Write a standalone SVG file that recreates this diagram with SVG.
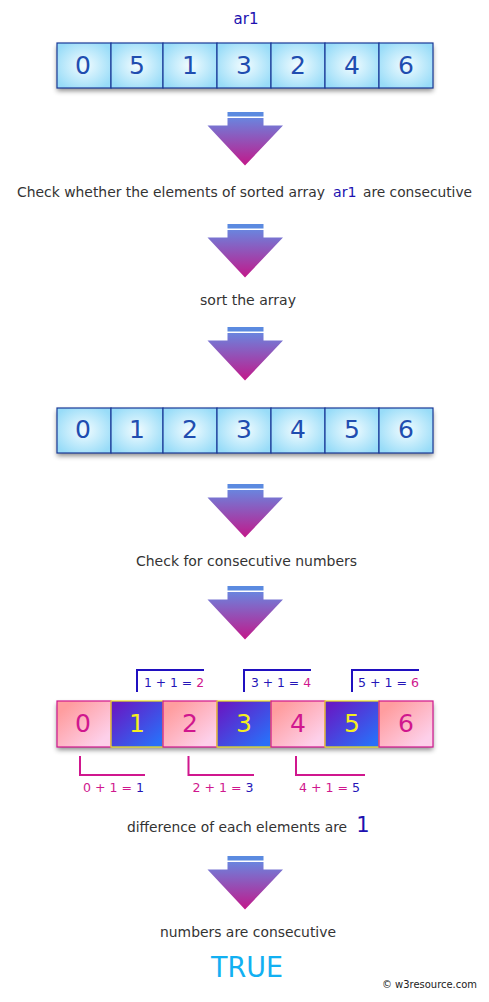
<svg xmlns="http://www.w3.org/2000/svg" xmlns:xlink="http://www.w3.org/1999/xlink" width="489" height="1002" viewBox="0 0 489 1002">
<defs>
<radialGradient id="blueCell" cx="0.5" cy="0.5" r="0.6">
<stop offset="0" stop-color="#f2fcff"/>
<stop offset="1" stop-color="#98dcf8"/>
</radialGradient>
<linearGradient id="pinkCell" x1="0" y1="0" x2="1" y2="1">
<stop offset="0.15" stop-color="#ff9d9f"/>
<stop offset="0.85" stop-color="#fdd0ea"/>
</linearGradient>
<linearGradient id="purpleCell" x1="0" y1="0" x2="1" y2="1">
<stop offset="0.1" stop-color="#651cc6"/>
<stop offset="0.9" stop-color="#2a6ef8"/>
</linearGradient>
<linearGradient id="arrowGrad" x1="0" y1="0" x2="0" y2="1">
<stop offset="0" stop-color="#6a84de"/>
<stop offset="1" stop-color="#c2188a"/>
</linearGradient>
<filter id="shadow" x="-10%" y="-30%" width="120%" height="170%">
<feDropShadow dx="0" dy="3" stdDeviation="2.5" flood-color="#000" flood-opacity="0.45"/>
</filter>
<g id="arrow">
<rect x="227.5" y="0" width="36" height="4.5" fill="#5b8ae0"/>
<path d="M227.5,6 H263.5 V13.5 H283 L245,53.5 L207.5,13.5 H227.5 Z" fill="url(#arrowGrad)"/>
</g>
</defs>
<style>
.t{font-family:"DejaVu Sans","Liberation Sans",sans-serif;fill:#333333;font-size:14.5px}
.bl{stroke:#1a3a98;stroke-width:1.2;fill:url(#blueCell)}
.bd{font-family:"DejaVu Sans","Liberation Sans",sans-serif;font-size:25px;fill:#1f4db0;text-anchor:middle}
.pk{stroke:#d0178e;stroke-width:1.2;fill:url(#pinkCell)}
.pp{stroke:#f0e41e;stroke-width:1.2;fill:url(#purpleCell)}
.pd{font-family:"DejaVu Sans","Liberation Sans",sans-serif;font-size:25px;fill:#d0178e;text-anchor:middle}
.yd{font-family:"DejaVu Sans","Liberation Sans",sans-serif;font-size:25px;fill:#f5ef1e;text-anchor:middle}
.s{font-family:"DejaVu Sans","Liberation Sans",sans-serif;font-size:12.5px}
.cb{fill:#2515b8}
.cm{fill:#d0178e}
.brb{stroke:#2010c0;stroke-width:2;fill:none}
.brm{stroke:#d0178e;stroke-width:2;fill:none}
</style>
<rect width="489" height="1002" fill="#ffffff"/>

<g id="label-ar1">
<text x="246" y="24" class="t" style="fill:#2011b0;font-size:15px" text-anchor="middle">ar1</text>
</g>

<g id="array-original">
<g filter="url(#shadow)">
<rect x="57" y="43" width="376" height="45" fill="#9fdcf6"/>
</g>
<rect x="57" y="43" width="54" height="45" class="bl"/>
<rect x="111" y="43" width="52" height="45" class="bl"/>
<rect x="163" y="43" width="54" height="45" class="bl"/>
<rect x="217" y="43" width="54" height="45" class="bl"/>
<rect x="271" y="43" width="54" height="45" class="bl"/>
<rect x="325" y="43" width="54" height="45" class="bl"/>
<rect x="379" y="43" width="54" height="45" class="bl"/>
<text x="83" y="74" class="bd">0</text>
<text x="137" y="74" class="bd">5</text>
<text x="190" y="74" class="bd">1</text>
<text x="244" y="74" class="bd">3</text>
<text x="298" y="74" class="bd">2</text>
<text x="352" y="74" class="bd">4</text>
<text x="406" y="74" class="bd">6</text>
</g>

<g id="text-check-sorted">
<text x="17" y="197" class="t" textLength="308" lengthAdjust="spacingAndGlyphs">Check whether the elements of sorted array</text>
<text x="333" y="197" class="t" style="fill:#2011b0" textLength="23.5" lengthAdjust="spacingAndGlyphs">ar1</text>
<text x="363" y="197" class="t" textLength="109" lengthAdjust="spacingAndGlyphs">are consecutive</text>
</g>

<g id="text-sort">
<text x="200" y="305" class="t" textLength="96" lengthAdjust="spacingAndGlyphs">sort the array</text>
</g>

<g id="array-sorted">
<g filter="url(#shadow)">
<rect x="57" y="408" width="376" height="45" fill="#9fdcf6"/>
</g>
<rect x="57" y="408" width="54" height="45" class="bl"/>
<rect x="111" y="408" width="52" height="45" class="bl"/>
<rect x="163" y="408" width="54" height="45" class="bl"/>
<rect x="217" y="408" width="54" height="45" class="bl"/>
<rect x="271" y="408" width="54" height="45" class="bl"/>
<rect x="325" y="408" width="54" height="45" class="bl"/>
<rect x="379" y="408" width="54" height="45" class="bl"/>
<text x="83" y="438" class="bd">0</text>
<text x="137" y="438" class="bd">1</text>
<text x="190" y="438" class="bd">2</text>
<text x="244" y="438" class="bd">3</text>
<text x="298" y="438" class="bd">4</text>
<text x="352" y="438" class="bd">5</text>
<text x="406" y="438" class="bd">6</text>
</g>

<g id="text-check-consecutive">
<text x="136" y="566" class="t" textLength="221" lengthAdjust="spacingAndGlyphs">Check for consecutive numbers</text>
</g>

<g id="array-check">
<g filter="url(#shadow)">
<rect x="57" y="701" width="376" height="46" fill="#f0a0c0"/>
</g>
<rect x="57" y="701" width="54" height="46" class="pk"/>
<rect x="111" y="701" width="52" height="46" class="pp"/>
<rect x="163" y="701" width="54" height="46" class="pk"/>
<rect x="217" y="701" width="54" height="46" class="pp"/>
<rect x="271" y="701" width="54" height="46" class="pk"/>
<rect x="325" y="701" width="54" height="46" class="pp"/>
<rect x="379" y="701" width="54" height="46" class="pk"/>
<text x="83" y="732" class="pd">0</text>
<text x="137" y="732" class="yd">1</text>
<text x="190" y="732" class="pd">2</text>
<text x="244" y="732" class="yd">3</text>
<text x="298" y="732" class="pd">4</text>
<text x="352" y="732" class="yd">5</text>
<text x="406" y="732" class="pd">6</text>
</g>

<g id="sum-above-1">
<path d="M137,692 V670 H204" class="brb"/>
<text x="144" y="687" class="s cb" textLength="60" lengthAdjust="spacingAndGlyphs">1 + 1 = <tspan class="cm">2</tspan></text>
</g>
<g id="sum-above-2">
<path d="M244,692 V670 H311" class="brb"/>
<text x="251" y="687" class="s cb" textLength="60" lengthAdjust="spacingAndGlyphs">3 + 1 = <tspan class="cm">4</tspan></text>
</g>
<g id="sum-above-3">
<path d="M352,692 V670 H419" class="brb"/>
<text x="358" y="687" class="s cb" textLength="61" lengthAdjust="spacingAndGlyphs">5 + 1 = <tspan class="cm">6</tspan></text>
</g>

<g id="sum-below-1">
<path d="M80,756 V775 H145" class="brm"/>
<text x="83" y="792" class="s cm" textLength="61" lengthAdjust="spacingAndGlyphs">0 + 1 = <tspan class="cb">1</tspan></text>
</g>
<g id="sum-below-2">
<path d="M188.5,756 V775 H254" class="brm"/>
<text x="192.5" y="792" class="s cm" textLength="61" lengthAdjust="spacingAndGlyphs">2 + 1 = <tspan class="cb">3</tspan></text>
</g>
<g id="sum-below-3">
<path d="M296,756 V775 H365" class="brm"/>
<text x="299" y="792" class="s cm" textLength="61" lengthAdjust="spacingAndGlyphs">4 + 1 = <tspan class="cb">5</tspan></text>
</g>

<g id="text-difference">
<text x="127" y="832" class="t" textLength="220" lengthAdjust="spacingAndGlyphs">difference of each elements are</text>
<text x="363" y="832" class="t" style="fill:#2011b0;font-size:21px" text-anchor="middle">1</text>
</g>

<g id="text-numbers-consecutive">
<text x="160" y="937" class="t" textLength="176" lengthAdjust="spacingAndGlyphs">numbers are consecutive</text>
</g>

<g id="text-true">
<text x="247" y="977" class="t" style="fill:#12b0f2;font-size:28px" text-anchor="middle" textLength="72" lengthAdjust="spacingAndGlyphs">TRUE</text>
</g>

<g id="copyright">
<text x="382" y="988" style="font-family:'DejaVu Sans','Liberation Sans',sans-serif;font-size:10px;fill:#222" textLength="95" lengthAdjust="spacingAndGlyphs">© w3resource.com</text>
</g>

<g id="connectors">
<use xlink:href="#arrow" transform="translate(0,112)"/>
<use xlink:href="#arrow" transform="translate(0,224)"/>
<use xlink:href="#arrow" transform="translate(0,327)"/>
<use xlink:href="#arrow" transform="translate(0,484)"/>
<use xlink:href="#arrow" transform="translate(0,586)"/>
<use xlink:href="#arrow" transform="translate(0,856)"/>
</g>
</svg>
